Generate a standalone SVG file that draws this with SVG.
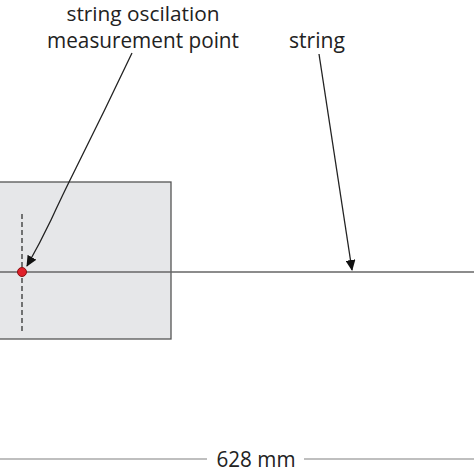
<svg xmlns="http://www.w3.org/2000/svg" width="474" height="474" viewBox="0 0 474 474">
<defs>
<style>
.t{font-family:"Open Sans","Liberation Sans",sans-serif;font-size:21px;fill:#222;}
.lead{fill:none;stroke:#222;stroke-width:1.3;}
</style>
<marker id="ah" markerWidth="11" markerHeight="10" refX="10" refY="5" orient="auto" markerUnits="userSpaceOnUse">
<path d="M0,0 L11,5 L0,10 z" fill="#111"/>
</marker>
</defs>
<rect width="474" height="474" fill="#fff"/>
<g id="box">
<rect x="-2" y="182" width="173" height="157" fill="#e6e7e9" stroke="#555" stroke-width="1.3"/>
</g>
<g id="dash">
<line x1="22" y1="214" x2="22" y2="331" stroke="#333" stroke-width="1.3" stroke-dasharray="5,3"/>
</g>
<g id="stringline">
<line x1="0" y1="272" x2="474" y2="272" stroke="#666" stroke-width="1.5"/>
</g>
<g id="point">
<circle cx="22" cy="272" r="4.5" fill="#e0202a" stroke="#8a1010" stroke-width="1"/>
</g>
<g id="labels">
<text class="t" x="143" y="21" font-size="20" text-anchor="middle" textLength="153" lengthAdjust="spacingAndGlyphs" style="font-size:20px">string oscilation</text>
<text class="t" x="143" y="48" text-anchor="middle" textLength="192" lengthAdjust="spacingAndGlyphs">measurement point</text>
<text class="t" x="317" y="48" text-anchor="middle" textLength="56" lengthAdjust="spacingAndGlyphs">string</text>
</g>
<g id="connectors">
<path class="lead" d="M132,53 Q105,110 76,168 Q62,196 51,220 Q40,243 27,266" marker-end="url(#ah)"/>
<line class="lead" x1="319" y1="54" x2="352" y2="270" marker-end="url(#ah)"/>
</g>
<g id="dimension">
<line x1="0" y1="459" x2="207" y2="459" stroke="#aaa" stroke-width="1.3"/>
<line x1="304" y1="459" x2="474" y2="459" stroke="#aaa" stroke-width="1.3"/>
<text class="t" x="256" y="467" text-anchor="middle" textLength="79" lengthAdjust="spacingAndGlyphs">628 mm</text>
</g>
</svg>
